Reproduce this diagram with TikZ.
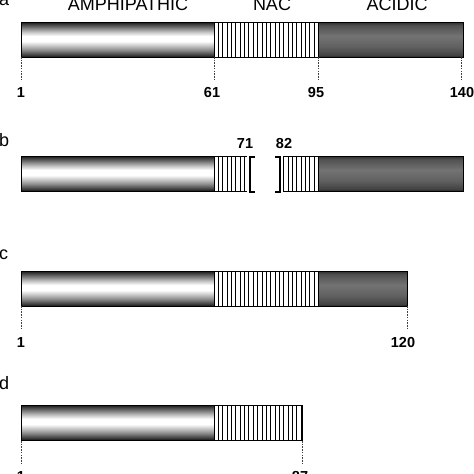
\documentclass[tikz,border=0pt]{standalone}
\usepackage{fontspec}
\setmainfont{Liberation Sans}
\pgfdeclareverticalshading{amphshade}{100bp}{color(0bp)=(black!92); color(25bp)=(black!92); color(27.5bp)=(black!78); color(35bp)=(black!45); color(47.5bp)=(white); color(55bp)=(white); color(60bp)=(black!20); color(72.5bp)=(black!78); color(75bp)=(black!92); color(100bp)=(black!92)}
\pgfdeclareverticalshading{acidshade}{100bp}{color(0bp)=(black!85); color(25bp)=(black!85); color(28bp)=(black!74); color(40bp)=(black!62); color(55bp)=(black!55); color(70bp)=(black!68); color(75bp)=(black!82); color(100bp)=(black!82)}
\tikzset{
  outline/.style={draw=black, line width=0.8pt},
  stripe/.style={line width=0.7pt, black},
  tick/.style={draw=black!75, line width=0.7pt, dash pattern=on 1.6pt off 1.1pt},
  num/.style={font=\fontsize{14.5}{16}\selectfont\bfseries, inner sep=0pt, anchor=base},
  head/.style={font=\fontsize{18}{20}\selectfont, inner sep=0pt, anchor=base},
  panel/.style={font=\fontsize{18}{20}\selectfont, inner sep=0pt, anchor=base west},
}
\newcommand{\amphseg}[2]{% y top, name
  \shade[shading=amphshade] (21,#1) rectangle (214,#1+35);
  \draw[outline] (21,#1) rectangle (214,#1+35);
  \coordinate (#2) at (21,#1+35);
}
\newcommand{\nacseg}[3]{% x0, x1, y top
  \fill[white] (#1,#3) rectangle (#2,#3+35);
  \begin{scope}
    \clip (#1,#3) rectangle (#2,#3+35);
    \foreach \i in {0,...,30} {\draw[stripe] ({214+\i*4.35},#3) -- ({214+\i*4.35},#3+35);}
  \end{scope}
  \draw[line width=0.5pt] (#1,#3) rectangle (#2,#3+35);
}
\newcommand{\acidseg}[3]{% x0, x1, y top
  \shade[shading=acidshade] (#1,#3) rectangle (#2,#3+35);
  \draw[outline] (#1,#3) rectangle (#2,#3+35);
}
\begin{document}
\begin{tikzpicture}[x=1pt,y=-1pt]
\useasboundingbox (0,0) rectangle (474,474);
% ---------- a ----------
\node[panel] (la) at (-1,5) {a};
\node[head] (h1) at (128,10) {AMPHIPATHIC};
\node[head] (h2) at (272,10) {NAC};
\node[head] (h3) at (397,10) {ACIDIC};
\amphseg{22}{a1}
\nacseg{214}{318}{22}
\acidseg{318}{463}{22}
\node[num] (na1) at (21,97) {1};
\node[num] (na2) at (212,97) {61};
\node[num] (na3) at (316,97) {95};
\node[num] (na4) at (462,97) {140};
\coordinate (ta1) at (21,57); \coordinate (ta2) at (214,57);
\coordinate (ta3) at (318,57); \coordinate (ta4) at (461,57);
\foreach \k in {1,2,3,4} {\draw[tick] (ta\k) -- ++(0,24);}
% ---------- b ----------
\node[panel] (lb) at (-1,146) {b};
\amphseg{156}{b1}
\nacseg{214}{248}{156}
\nacseg{282}{318}{156}
\acidseg{318}{463}{156}
\fill[white] (247,154) rectangle (283,194);
\draw[line width=2.6pt] (255,157) -- (250,157) -- (250,192) -- (255,192);
\draw[line width=2.6pt] (275,157) -- (280,157) -- (280,192) -- (275,192);
\node[num] (nb1) at (245,148) {71};
\node[num] (nb2) at (284,148) {82};
% ---------- c ----------
\node[panel] (lc) at (-1,259) {c};
\amphseg{271}{c1}
\nacseg{214}{318}{271}
\acidseg{318}{407}{271}
\coordinate (tc1) at (21,306); \coordinate (tc2) at (407,306);
\draw[tick] (tc1) -- ++(0,24);
\draw[tick] (tc2) -- ++(0,24);
\node[num] (nc1) at (21,347) {1};
\node[num] (nc2) at (403,347) {120};
% ---------- d ----------
\node[panel] (ld) at (-1,389) {d};
\amphseg{405}{d1}
\nacseg{214}{302}{405}
\coordinate (td1) at (21,441); \coordinate (td2) at (302,441);
\draw[tick] (td1) -- ++(0,22);
\draw[tick] (td2) -- ++(0,22);
\node[num] (nd1) at (21,481) {1};
\node[num] (nd2) at (300,481) {87};
\end{tikzpicture}
\end{document}
